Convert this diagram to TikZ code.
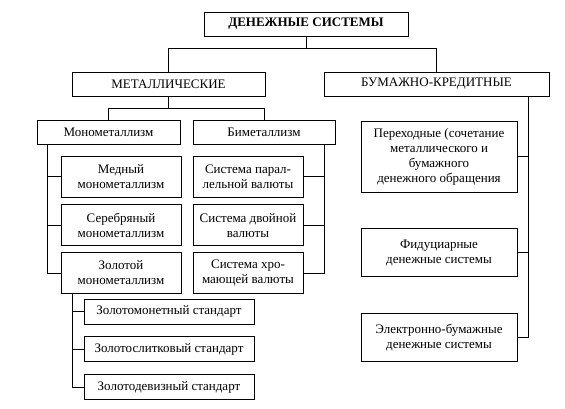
\documentclass[tikz,border=0pt]{standalone}
\usepackage{fontspec}
\setmainfont{Liberation Serif}
\usetikzlibrary{positioning, calc}

\begin{document}
\begin{tikzpicture}[x=1pt, y=-1pt, line width=0.8pt,
        box/.style={draw, align=center, inner sep=0pt, font=\fontsize{13}{15}\selectfont},
        monobox/.style={box, minimum width=120pt, minimum height=41pt},
        bibox/.style={box, minimum width=110pt, minimum height=41pt},
        goldbox/.style={box, minimum width=170pt, minimum height=25pt},
        paperbox/.style={box, minimum width=156pt, minimum height=48pt}]
        \useasboundingbox (0,0) rectangle (565,409);
                \node[box, minimum width=204pt, minimum height=24pt, font=\fontsize{13}{15}\selectfont\bfseries] (root) at (306,24) {ДЕНЕЖНЫЕ СИСТЕМЫ};
                \node[box, minimum width=193pt, minimum height=24pt] (met) at (168.5,84) {МЕТАЛЛИЧЕСКИЕ};
                \node[box, minimum width=225pt, minimum height=24pt] (bum) at (436.5,84) {БУМАЖНО-КРЕДИТНЫЕ};
                \node[box, minimum width=143pt, minimum height=24pt] (mono) at (108.5,132) {Монометаллизм};
                \node[box, minimum width=142pt, minimum height=24pt] (bi) at (264,132) {Биметаллизм};
                % монометаллизм
                \node[monobox] (medny) at (121,176.5) {Медный\\монометаллизм};
                \node[monobox] (serebro) [below=7pt of medny] {Серебряный\\монометаллизм};
                \node[monobox] (zoloto) [below=6pt of serebro] {Золотой\\монометаллизм};
                % биметаллизм
                \node[bibox] (paral) at (248,176.5) {Система парал-\\лельной валюты};
                \node[bibox] (dvoin) [below=7pt of paral] {Система двойной\\валюты};
                \node[bibox] (hrom) [below=6pt of dvoin] {Система хро-\\мающей валюты};
                % золотой стандарт
                \node[goldbox] (monet) at (169,311.5) {Золотомонетный стандарт};
                \node[goldbox] (slitok) [below=12pt of monet] {Золотослитковый стандарт};
                \node[goldbox] (deviz) [below=12pt of slitok] {Золотодевизный стандарт};
                % бумажно-кредитные
                \node[paperbox, minimum height=71pt] (perehod) at (439,156.5) {Переходные (сочетание\\металлического и\\бумажного\\денежного обращения};
                \node[paperbox] (fiduc) [below=36pt of perehod] {Фидуциарные\\денежные системы};
                \node[paperbox] (elektr) [below=36pt of fiduc] {Электронно-бумажные\\денежные системы};

                \coordinate (fork) at ($(root.south)+(0,12)$);
                \coordinate (metfork) at ($(met.south)+(0,12)$);
                \coordinate (monorail) at ([xshift=11pt]mono.south west);
                \coordinate (birail) at ([xshift=-11pt]bi.south east);
                \coordinate (goldrail) at ([xshift=12pt]zoloto.south west);
                \coordinate (bumrail) at ([xshift=-21pt]bum.south east);
                \draw (root.south) -- (fork);
                \draw (met.north) |- (fork) -| (bum.north);
                \draw (met.south) -- (metfork);
                \draw (mono.north) |- (metfork) -| (bi.north);
                \foreach \n in {medny, serebro, zoloto} \draw (monorail) |- (\n.west);
                \foreach \n in {paral, dvoin, hrom} \draw (birail) |- (\n.east);
                \foreach \n in {monet, slitok, deviz} \draw (goldrail) |- (\n.west);
                \foreach \n in {perehod, fiduc, elektr} \draw (bumrail) |- (\n.east);
        \end{tikzpicture}
\end{document}
